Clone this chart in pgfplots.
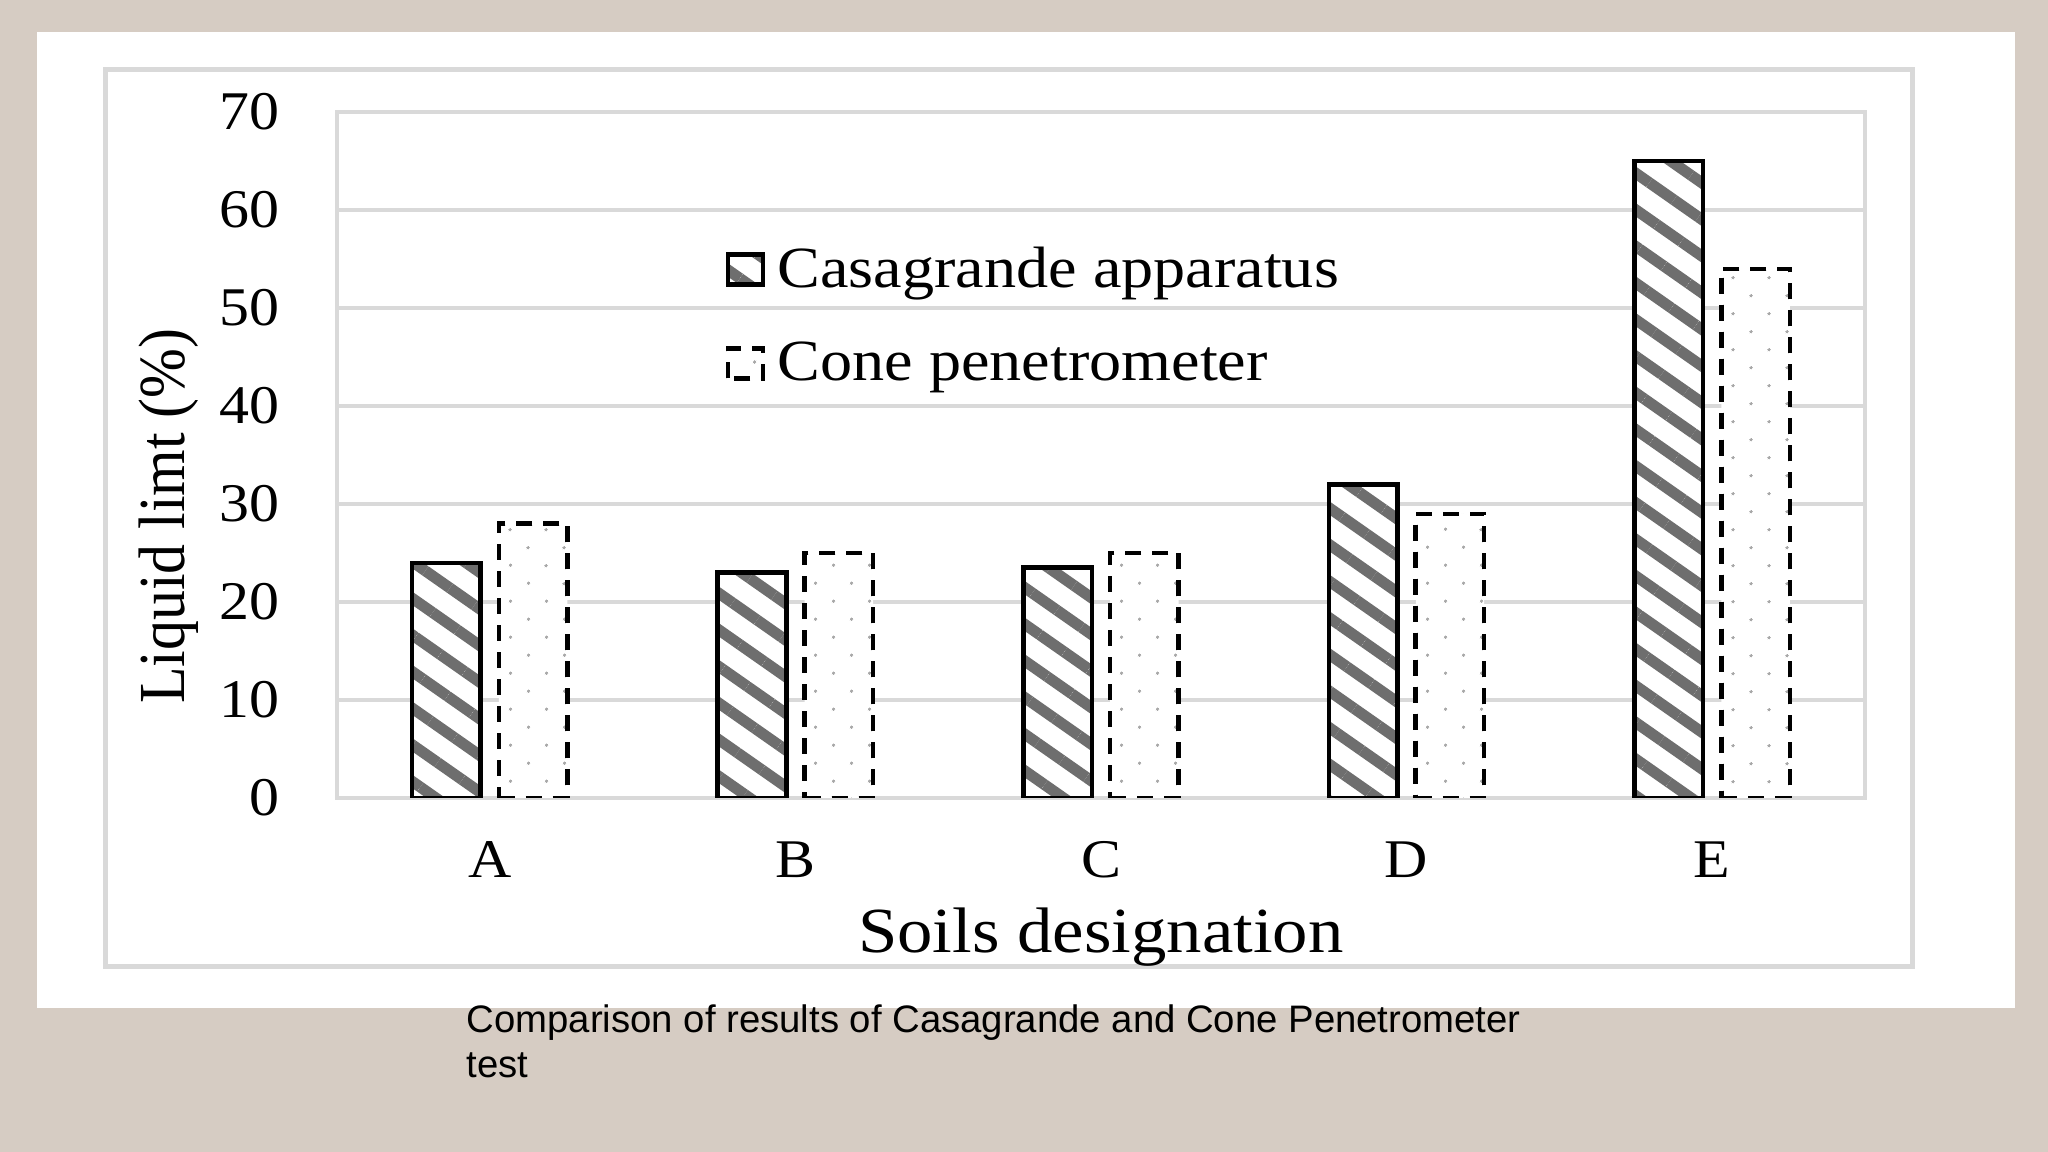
\documentclass[border=0pt]{standalone}
\usepackage{fontspec}
\setmainfont{Liberation Serif}[FakeStretch=1.1]
\setsansfont{Liberation Sans}
\newfontfamily\ylfont{Liberation Serif}[FakeStretch=0.91]
\usepackage{pgfplots}
\pgfplotsset{compat=1.18}
\usetikzlibrary{patterns.meta}
\definecolor{bgcol}{HTML}{D6CCC3}
\definecolor{gridgray}{HTML}{D9D9D9}
\definecolor{hatchgray}{HTML}{6E6E6E}
\definecolor{dotgray}{HTML}{A8A8A8}
\begin{document}
\begin{tikzpicture}
\fill[bgcol] (0,0) rectangle (20.48cm,11.52cm);
\fill[white] (0.367cm,1.44cm) rectangle (20.147cm,11.203cm);
\draw[gridgray, line width=0.05cm] (1.05cm,1.85cm) rectangle (19.12cm,10.82cm);
\begin{axis}[
  at={(3.37cm,3.54cm)}, anchor=south west,
  width=15.28cm, height=6.86cm, scale only axis,
  xmin=-0.5, xmax=4.5, ymin=0, ymax=70,
  ybar, bar width=0.224,
  xtick={0,1,2,3,4}, xticklabels={A,B,C,D,E},
  ytick={0,10,20,30,40,50,60,70},
  major tick length=0pt,
  tick style={draw=none},
  axis line style={draw=gridgray, line width=1.4pt},
  ymajorgrids, grid style={draw=gridgray, line width=1.1pt},
  /pgf/number format/assume math mode=true,
  yticklabel style={font=\fontsize{15.5}{18}\selectfont, anchor=east, inner sep=0pt, xshift=-16.2pt},
  xticklabel style={font=\fontsize{15.5}{18}\selectfont, anchor=north, inner sep=0pt, yshift=-12.2pt},
  xlabel={Soils designation},
  xlabel style={at={(axis description cs:0.5,0)}, anchor=north, inner sep=0pt, yshift=-31pt, font=\fontsize{18.3}{22}\selectfont},
  ylabel={Liquid limt (\%)},
  ylabel style={at={(axis description cs:-0.110,0.411)}, anchor=center, inner sep=0pt, font=\ylfont\fontsize{18.7}{22}\selectfont},
  legend cell align=left,
  legend style={at={(0.254,0.8147)}, anchor=north west, draw=none, fill=none, inner sep=0pt, row sep=9.9pt, column sep=1.5pt, font=\fontsize{16.6}{19}\selectfont},
  legend image code/.code={\draw[#1] (0cm,-0.15cm) rectangle (0.35cm,0.15cm);},
]
\addplot[bar shift=-0.142, draw=black, line width=1.3pt, preaction={fill=white},
  pattern={Lines[angle=-35,distance=0.30cm,line width=0.11cm]}, pattern color=hatchgray]
  coordinates {(0,24) (1,23) (2,23.5) (3,32) (4,65)};
\addlegendentry{Casagrande apparatus}
\addplot[bar shift=0.142, draw=black, line width=1.3pt, dash pattern=on 0.16cm off 0.11cm, preaction={fill=white},
  pattern={Dots[angle=45,distance=0.26cm,radius=0.016cm]}, pattern color=dotgray]
  coordinates {(0,28) (1,25) (2,25) (3,29) (4,54)};
\addlegendentry{Cone penetrometer}
\end{axis}
\node[anchor=base west, inner sep=0pt, font=\sffamily\fontsize{10.9}{12.8}\selectfont] at (4.66cm,1.19cm) {Comparison of results of Casagrande and Cone Penetrometer};
\node[anchor=base west, inner sep=0pt, font=\sffamily\fontsize{10.9}{12.8}\selectfont] at (4.66cm,0.74cm) {test};
\pgfresetboundingbox
\path[use as bounding box] (0,0) rectangle (20.48cm,11.52cm);
\end{tikzpicture}
\end{document}
